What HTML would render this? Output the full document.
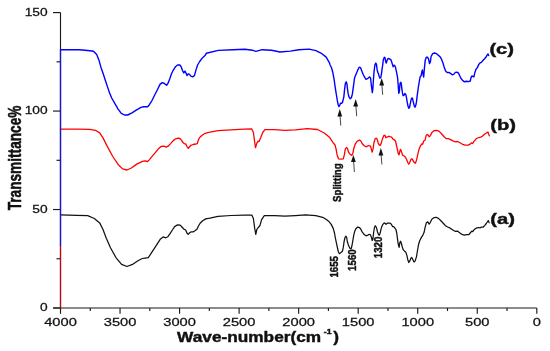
<!DOCTYPE html>
<html><head><meta charset="utf-8"><style>
html,body{margin:0;padding:0;background:#fff;width:550px;height:351px;overflow:hidden}
svg{display:block}
</style></head><body>
<svg width="550" height="351" viewBox="0 0 550 351">
<rect width="550" height="351" fill="#fff"/>
<g stroke="#1a1a1a" stroke-width="1.15" fill="none">
<line x1="60.5" y1="12.6" x2="60.5" y2="308"/>
<line x1="53.2" y1="308" x2="536.8" y2="308"/>
<line x1="53" y1="308" x2="60.5" y2="308"/>
<line x1="56.5" y1="258.767" x2="60.5" y2="258.767"/>
<line x1="53" y1="209.533" x2="60.5" y2="209.533"/>
<line x1="56.5" y1="160.3" x2="60.5" y2="160.3"/>
<line x1="53" y1="111.067" x2="60.5" y2="111.067"/>
<line x1="56.5" y1="61.8333" x2="60.5" y2="61.8333"/>
<line x1="53" y1="12.6" x2="60.5" y2="12.6"/>
<line x1="536.8" y1="308" x2="536.8" y2="313.8"/>
<line x1="507.031" y1="308" x2="507.031" y2="311"/>
<line x1="477.262" y1="308" x2="477.262" y2="313.8"/>
<line x1="447.494" y1="308" x2="447.494" y2="311"/>
<line x1="417.725" y1="308" x2="417.725" y2="313.8"/>
<line x1="387.956" y1="308" x2="387.956" y2="311"/>
<line x1="358.188" y1="308" x2="358.188" y2="313.8"/>
<line x1="328.419" y1="308" x2="328.419" y2="311"/>
<line x1="298.65" y1="308" x2="298.65" y2="313.8"/>
<line x1="268.881" y1="308" x2="268.881" y2="311"/>
<line x1="239.112" y1="308" x2="239.112" y2="313.8"/>
<line x1="209.344" y1="308" x2="209.344" y2="311"/>
<line x1="179.575" y1="308" x2="179.575" y2="313.8"/>
<line x1="149.806" y1="308" x2="149.806" y2="311"/>
<line x1="120.037" y1="308" x2="120.037" y2="313.8"/>
<line x1="90.2687" y1="308" x2="90.2687" y2="311"/>
<line x1="60.5" y1="308" x2="60.5" y2="313.8"/>
</g>
<g fill="none" stroke-width="1.4" stroke-linejoin="round" stroke-linecap="round">
<polyline stroke="#ff0000" stroke-width="1.3" points="60.5,129.2 76.8,129.2 89.9,129.4 95.4,130.3 99.7,132.9 103,137.9 107.4,146.6 112.8,156.5 118.3,164.7 122.6,168.9 127,170 131.4,168 136.8,164.1 142.3,161.3 145,160.9 147.6,161.5 149.5,159.6 152.1,156.4 155.3,152.6 158.5,148.7 161,146.5 163.6,146.2 166.2,147.1 168.1,146.2 170.6,143.6 173.2,140.6 175.8,138.8 178.1,138.1 179.9,138.5 181.5,140.1 182.8,142.3 184.1,143.6 185.8,144 187.1,146.8 188.3,148.3 189.6,146.8 190.9,145.3 193.1,144.5 195.6,144 197.3,143.6 198.2,140.4 199.5,137.8 202.1,135.3 205.3,133.3 208.5,132.3 210,132.1 218,130.6 231.1,129.9 244.2,129.2 251.8,129 253.4,132.5 254.7,142.3 255.5,147.7 256.8,143.4 257.9,141.2 259,141.6 260.6,137.9 262.7,132.5 264.9,129.6 274.7,129.6 285,130.4 295.3,129.9 307.2,128.7 317.5,129.5 324.3,133 329.4,137.2 332.9,142.4 335,145 336.1,149.2 337.1,154.9 338.6,158.9 341.4,159.2 343.3,158.9 344.3,154.9 345.3,149.2 346.4,147.5 347.5,148.5 348.5,152.1 350,154.2 351.8,155.4 352.8,153.5 353.8,148.5 355.2,144.2 357.1,141.4 359.5,140 360.7,140.7 362.1,143.5 364.2,145.7 366,146.8 367.3,146.2 368.8,145.5 370.5,146.2 371.4,149.4 372.2,152.2 373.1,148.7 373.9,143 375,139.1 376.3,138.1 377.3,139.7 378.2,143 379.1,144.9 380.1,145.5 381.1,143.6 382,140.4 382.9,137.8 383.9,135.5 385,135.3 385.9,137.8 386.8,137.2 388.1,136.5 389.7,136.5 391.6,137.2 392.9,139.1 394.2,139.7 395.5,141 396.5,145.5 397.4,149.4 398.3,153.8 399.1,154.7 400,150.6 400.6,149.4 401.6,151.9 402.5,155.1 403.8,155.8 405.1,156.8 406.4,159 407.7,162.2 408.7,164.1 409.6,162.8 410.9,159.6 411.9,158.6 412.9,160.3 414.1,162.4 415.4,163.2 416.6,159.9 417.9,153.8 419.2,148.7 420.5,145.8 421.8,144 422.7,144.2 423.7,141 425,140.3 426.3,135.2 427.8,134.5 429.1,136.7 430.3,135.8 432,132.4 433.9,130.7 436.5,130.3 439,131.1 441.5,133.7 444.1,136.7 446.4,138.7 448.5,138.7 450.5,139.6 453,140.9 455.5,141.8 457.8,141.5 460,142.8 462.5,144.3 465.1,145.1 468.3,145.1 470.2,144.1 471.5,142.8 472.7,143.5 474,141.3 475.7,139.3 477.4,138 479.1,137.5 480.7,137.1 482.3,136.2 484.2,134.5 486.1,133.3 487.4,132.4 488,132 488.6,133.9 489.3,135.8"/>
<polyline stroke="#111" stroke-width="1.25" points="60.5,214.8 76.8,215.3 87.7,215.7 94.3,218.5 99.7,222.9 103,229.5 106.3,238.2 110.6,248 116.1,257.8 121.6,264.4 127,266.5 132.5,264.4 137.9,260.7 142.3,258.5 145,258.1 148.3,257.7 150.9,253.7 153.9,249.2 157.6,243.3 160.5,238.9 163.1,236.9 165.7,237.8 167.9,236.7 170.2,233.4 172.4,230 174.6,226.6 177.6,224.8 180.2,225.1 182,227 183.8,229.2 185.7,230 186.9,233 188.2,234.4 189.4,233 190.9,231.9 193.1,231.9 195.3,230.4 197.1,229 198.3,226.3 200.1,223.3 202.7,220.7 205.7,218.9 210,218.1 218,216.4 231.1,215.5 244.2,215.1 251.8,215.1 253.4,218.5 254.7,228.4 255.8,234.3 256.8,229.5 258.4,227.3 259.9,225.7 261.6,219.6 264.3,215.7 274.7,215.7 285,216.1 295.3,215.6 305.5,214.9 315.8,215.6 322.6,217.3 326,219.2 328.6,221.2 331.2,224.4 333.2,228.4 334.5,233 335.4,238.2 336.5,243.4 337.5,248 338.4,252 339.4,253.6 340.4,252.9 341.5,252 342.4,251.3 343.3,247.4 344.1,241.5 345,237.5 345.9,236.2 346.7,237.5 347.3,241.5 348.3,244.7 349.3,247.1 350.2,248.7 351.1,248.7 351.9,246 352.8,240.8 353.8,234.9 354.8,231 356.1,228.4 357.7,227.1 359.4,227.5 360.7,229 362,231.6 364,234.3 365.5,235.5 366,235.8 367.8,235.1 369.4,234.3 370.6,235.1 371.4,237.4 372.2,240.5 372.9,238.9 373.7,232 374.5,227.4 375.2,225.8 376,226.6 376.8,228.9 377.5,232 378.6,234.8 379.5,235.1 380.2,232.8 381.1,228.9 381.8,226.6 382.9,224.3 384.2,222.8 385.2,223.5 386,224.3 387.5,223.1 389.8,223.1 391.4,224.3 392.5,226.6 393.7,226.6 394.9,228.2 396,229.7 396.8,233.5 397.5,238.9 398.3,244.3 399.1,247.4 399.8,242.8 400.6,241.2 401.4,243.5 402.2,246.6 403.2,249.7 404.5,251.2 405.7,252 406.8,255.1 407.8,259.7 408.8,262.5 409.8,260.9 410.9,258.2 411.8,257.4 412.9,259.7 414,262 415.2,260.9 416.5,256.6 417.5,250.5 418.6,244.3 419.8,240.5 421.4,237.4 422.9,235.1 424.2,232 425,227.9 426.3,222.8 427.8,221.9 429.1,224.1 430.1,222.8 432,219 433.9,217.7 436.2,217.3 438.4,218.4 440.9,220.7 443.5,223.5 445.4,225.7 447.7,227 449.8,227.9 451.7,229.2 453.6,230.5 455.5,231.3 457.5,231.1 458.7,232.1 460.6,233.4 462.5,234.7 464.5,235.2 466.4,234.7 468.9,234.7 470.2,233 471.8,231.1 472.7,231.7 474,229.8 475.3,228.8 476.9,227.9 478.5,227.5 480,227.9 481.6,227 483.3,227 484.8,225.4 486.3,223.5 487.6,221.5 488.4,220.7 488.9,222.2 489.2,222.8"/>
<polyline stroke="#0000ff" points="60.5,49.7 79.2,49.7 85,50.3 90,50.8 93.5,51.2 96.7,54.6 98.9,59.9 101,67.4 103.2,73.8 105.3,80.2 107.4,86.6 109.6,93 111.7,98 114.9,103.7 118.1,109.1 121.3,113.3 124.5,115 127.7,115 132,112.9 136.2,110.1 141,107.4 143.7,106.8 145,106.8 147.6,106.8 149.4,104.7 152.1,100.3 154.7,95 157.4,89.7 160,84.4 162.3,82.6 164.4,83.5 166.5,85.3 167.9,83.5 169.7,79.1 171.5,73.8 173.2,70.3 175.4,66.8 177.6,65 179.9,65 181.2,66.8 182.4,70.3 183.8,72.9 184.9,71.2 185.9,72.9 187,75.6 188.2,73.8 189.5,74.4 190.9,76.1 192.6,76.8 194.4,75.6 196.2,69.4 197.6,65 199.7,61.5 202.4,57.9 205,55.6 206.3,53.3 218.4,50.4 232.9,49.7 245,49.2 252.3,50.2 255.9,51.4 262,49.7 271.6,50.2 280,52 290.3,51.1 298.8,49.7 309.1,49.1 315.9,50.6 321.9,53.7 326.2,57.1 329.6,63.1 330,64.7 331.6,68 332.9,72.8 334.1,79.3 335.2,87.4 336.5,95.5 337.3,100.4 338.1,104.5 338.9,106.6 339.7,105.3 340.5,103.3 341.7,103.3 342.6,102 343.8,97.2 344.6,89.1 345.4,83.4 346.2,81.8 347,84.2 347.5,89.1 348.2,93.9 349.1,97.2 350.3,98.8 351.4,97.5 352.4,93.9 353.5,85.8 354.6,77.7 355.9,74.5 357.6,70.4 359.2,67.2 360.5,67.6 361.6,70.4 363.2,74.5 364.9,77.7 366,79.3 366.5,79.3 368,78.2 369.7,76.9 370.6,78.2 371.2,84.1 371.9,89.3 372.3,92.6 372.8,89.3 373.5,78.8 374.1,71 374.9,65.1 375.8,63.1 376.5,64.4 377.1,69.7 377.8,72.3 378.4,73.6 379.1,76.2 380,78.2 380.8,77.5 381.5,73.6 382,69.7 382.6,65.7 383.3,59.8 384.3,57.2 385.1,57.9 385.7,61.8 386.3,63.1 387,60.5 388,58.5 389.6,58.9 390.9,59.8 391.6,61.5 392,63 393.2,66.7 394.2,65.2 395.3,66.7 396.5,71.9 397.6,77.8 398.2,85.2 398.8,93.4 399.4,91.2 400,83.8 400.6,82.3 401.2,83 401.8,88.2 402.4,92.7 403.1,95.6 403.9,95.6 404.8,93.4 405.7,94.2 406.4,97.1 407.1,101.6 408,106 408.8,108.3 409.5,107.5 410.1,104.6 411,100.1 411.8,97.9 412.5,98.3 413.2,101.6 414.3,106 415,107.2 415.8,105.3 416.5,101.6 417.2,95.6 418.3,87.5 419.2,82.2 420.1,77 421.1,75.8 421.8,71.9 422.4,70 423.1,74.5 423.7,77 424.3,69.4 425.2,60.4 426.3,57.2 427.5,57.2 428.6,59.1 429.5,63.6 430.4,61.7 431.1,56.5 432.7,53.7 434.6,53 436.5,53.7 439.1,55.9 440,56.7 441.5,59.2 442.9,62.8 444.1,66.9 445.6,71 447.2,72.6 449,72.4 450.8,73.6 452.3,74.8 453.9,74.1 455.4,72.4 456.9,72.1 458.5,73.1 459.7,75.7 461,78.5 462.8,80.6 464.6,81.8 466.5,81.3 468.5,81.6 470.3,81 471,77.7 472,75.9 473,76.5 473.9,76.9 474.7,73.1 475.9,69.5 477.5,67.4 478.8,64.4 480.2,62.8 481.6,62.1 483.1,60.3 484.6,58.7 486.2,56.7 487.4,54.6 488,53.9 488.7,55.6"/>
<line x1="60.5" y1="246" x2="60.5" y2="308" stroke="#c8000f" stroke-width="1.25" stroke-linecap="butt"/>
<line x1="60.5" y1="49.7" x2="60.5" y2="246" stroke="#1515d0" stroke-width="1.35" stroke-linecap="butt"/>
</g>
<g font-family="Liberation Sans, Arial, sans-serif" fill="#111" stroke="#111" stroke-width="0.25">
<text x="0" y="0" text-anchor="end" transform="translate(47.6,311) scale(1.25,1)" font-size="11">0</text>
<text x="0" y="0" text-anchor="end" transform="translate(47.6,212.533) scale(1.25,1)" font-size="11">50</text>
<text x="0" y="0" text-anchor="end" transform="translate(47.6,114.067) scale(1.25,1)" font-size="11">100</text>
<text x="0" y="0" text-anchor="end" transform="translate(47.6,15.6) scale(1.25,1)" font-size="11">150</text>
<text x="0" y="0" text-anchor="middle" transform="translate(536.8,326.4) scale(1.3,1)" font-size="11.3">0</text>
<text x="0" y="0" text-anchor="middle" transform="translate(477.262,326.4) scale(1.3,1)" font-size="11.3">500</text>
<text x="0" y="0" text-anchor="middle" transform="translate(417.725,326.4) scale(1.3,1)" font-size="11.3">1000</text>
<text x="0" y="0" text-anchor="middle" transform="translate(358.188,326.4) scale(1.3,1)" font-size="11.3">1500</text>
<text x="0" y="0" text-anchor="middle" transform="translate(298.65,326.4) scale(1.3,1)" font-size="11.3">2000</text>
<text x="0" y="0" text-anchor="middle" transform="translate(239.112,326.4) scale(1.3,1)" font-size="11.3">2500</text>
<text x="0" y="0" text-anchor="middle" transform="translate(179.575,326.4) scale(1.3,1)" font-size="11.3">3000</text>
<text x="0" y="0" text-anchor="middle" transform="translate(120.037,326.4) scale(1.3,1)" font-size="11.3">3500</text>
<text x="0" y="0" text-anchor="middle" transform="translate(60.5,326.4) scale(1.3,1)" font-size="11.3">4000</text>
</g>
<g font-family="Liberation Sans, Arial, sans-serif" fill="#111" font-weight="bold" stroke="#111" stroke-width="0.4">
<text transform="translate(20.9,210.3) rotate(-90) scale(1,1.3)" font-size="13.65">Transmittance%</text>
<text transform="translate(177.1,342.1) scale(1.25,1)" font-size="13.8">Wave-number(cm<tspan font-size="7" dx="2.2" dy="-8">-1</tspan><tspan dx="1.4" dy="8">)</tspan></text>
<text transform="translate(489.4,53.7) scale(1.38,1)" font-size="14.6">(c)</text>
<text transform="translate(490.3,130.1) scale(1.38,1)" font-size="14.6">(b)</text>
<text transform="translate(490.3,224.2) scale(1.38,1)" font-size="14.6">(a)</text>
<text transform="translate(341.2,201.9) rotate(-90) scale(0.92,1.1)" font-size="10.5">Splitting</text>
<text transform="translate(337.6,277.6) rotate(-90) scale(0.925,1.11)" font-size="10.5">1655</text>
<text transform="translate(355.6,270.9) rotate(-90) scale(0.925,1.11)" font-size="10.5">1560</text>
<text transform="translate(382.3,258.2) rotate(-90) scale(0.925,1.11)" font-size="10.5">1320</text>
</g>
<g fill="#111" stroke="#333" stroke-width="0.9">
<line x1="340" y1="116" x2="340.8" y2="125.6"/><polygon stroke="none" points="339.8,109 337.4,116.6 342.2,116.6"/>
<line x1="355.9" y1="106" x2="356.7" y2="116.2"/><polygon stroke="none" points="355.7,99 353.3,106.6 358.1,106.6"/>
<line x1="381.9" y1="85" x2="382.7" y2="94.8"/><polygon stroke="none" points="381.7,78.1 379.3,85.6 384.1,85.6"/>
<line x1="353.6" y1="161.5" x2="354.4" y2="172"/><polygon stroke="none" points="353.4,155 351,162.1 355.8,162.1"/>
<line x1="381.1" y1="155" x2="381.9" y2="164.5"/><polygon stroke="none" points="380.9,148 378.5,155.6 383.3,155.6"/>
</g>
</svg>
</body></html>
